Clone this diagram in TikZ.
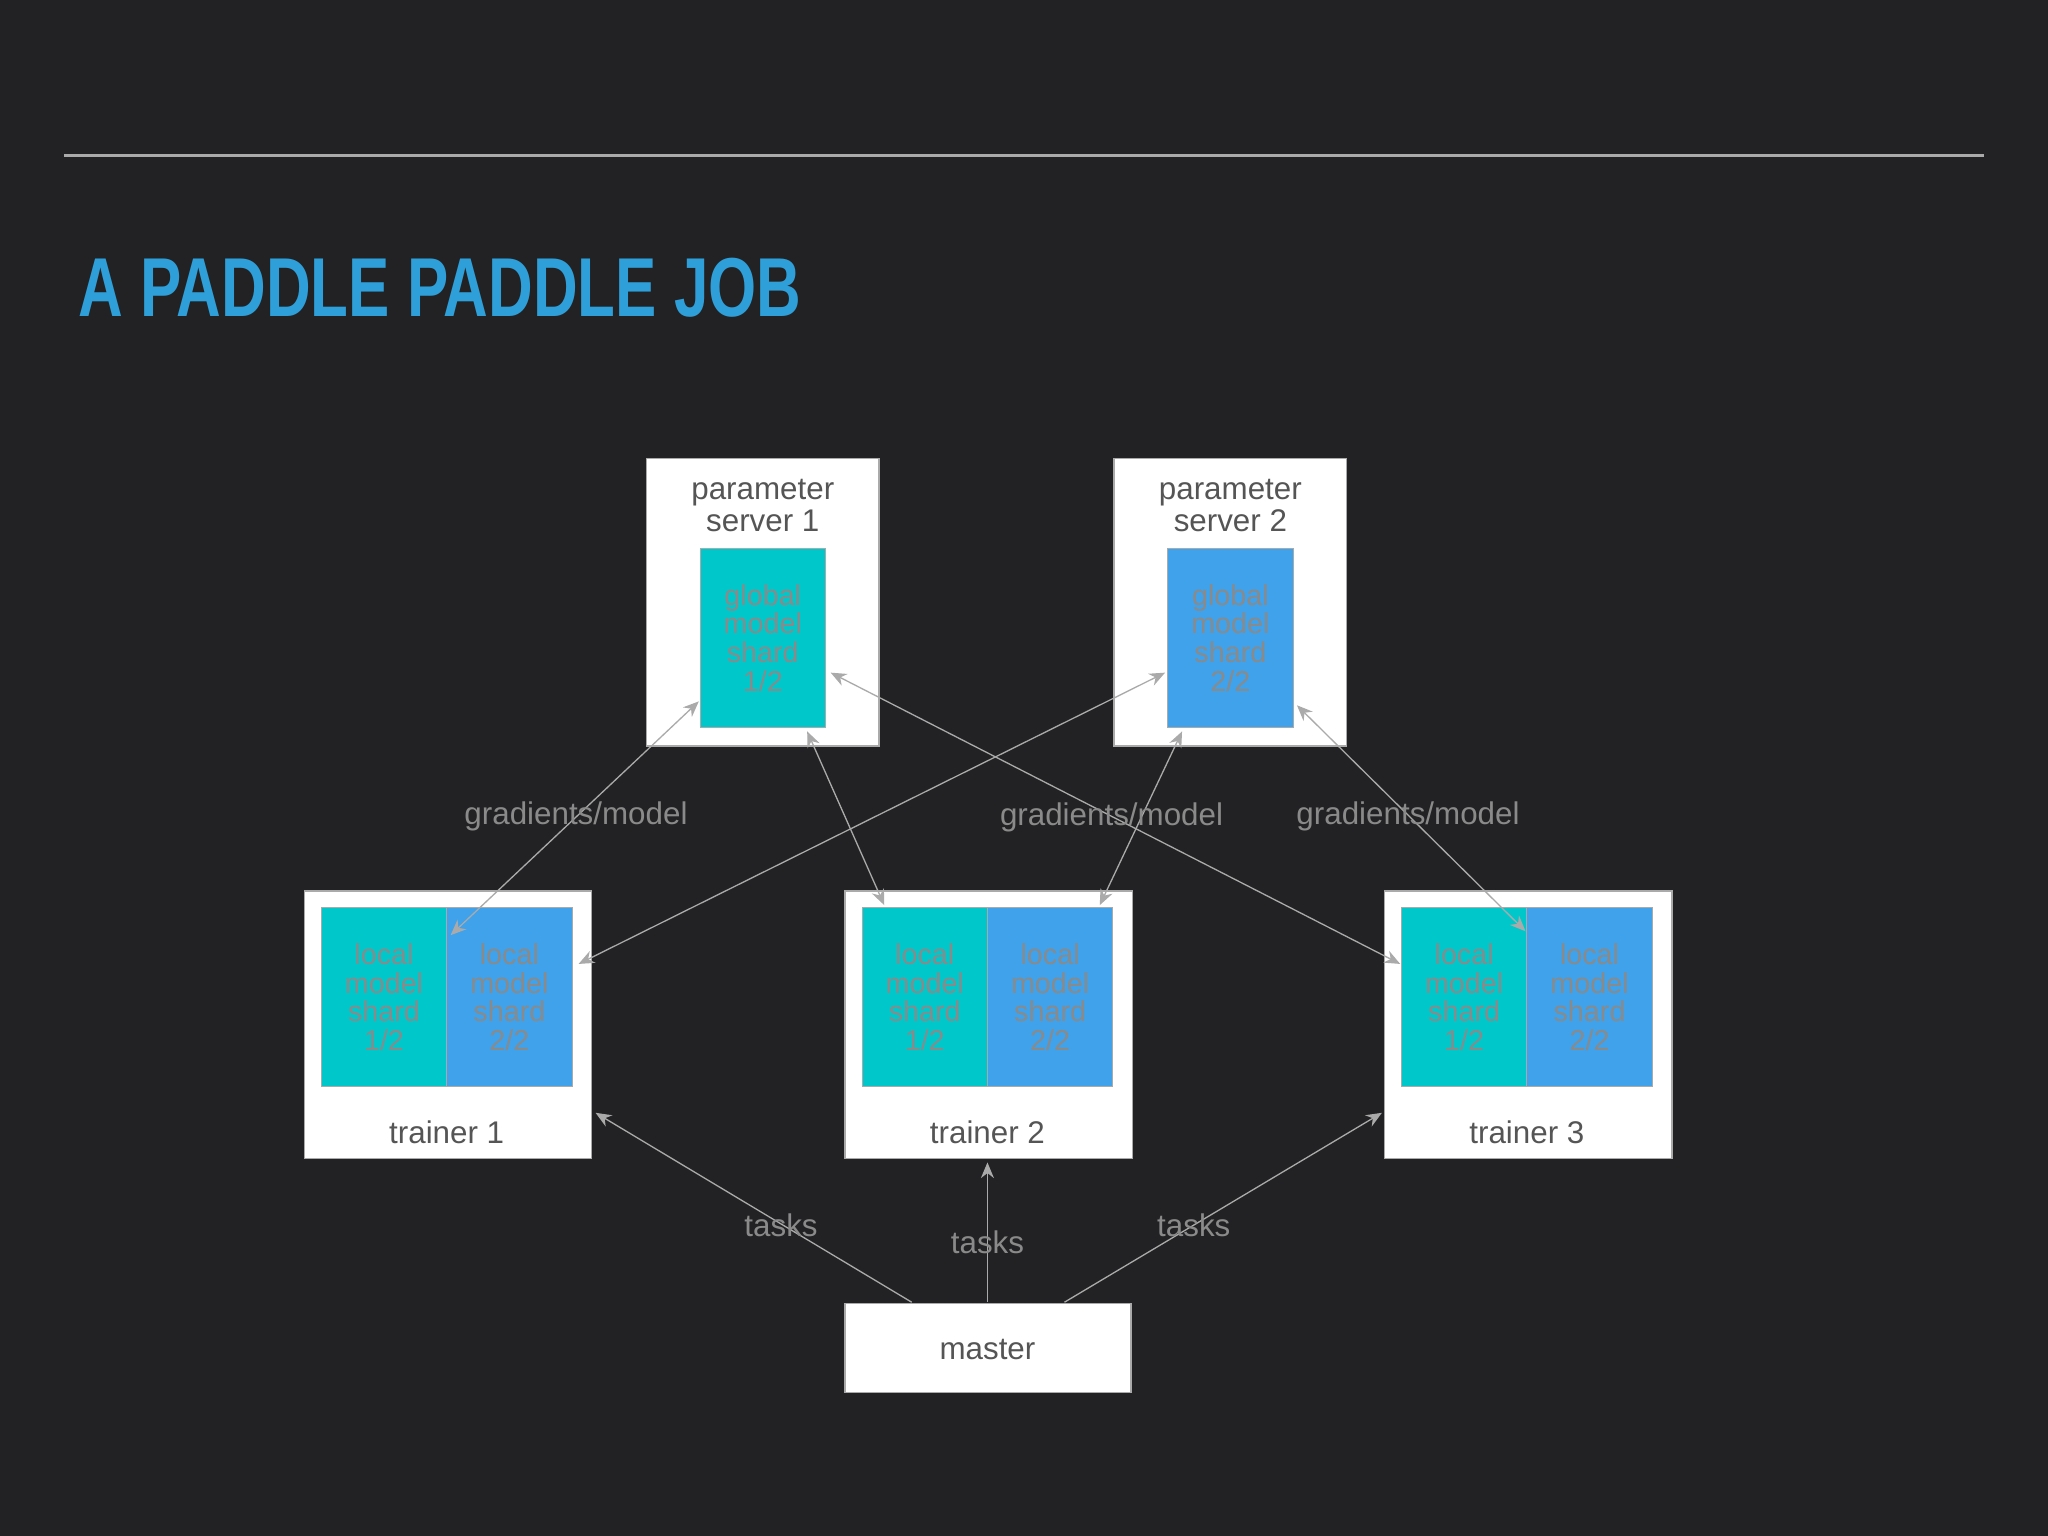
\documentclass[tikz,border=0pt]{standalone}
\usepackage{fontspec}
\setmainfont{Liberation Sans}
\usetikzlibrary{arrows.meta}
\definecolor{bg}{HTML}{222224}
\definecolor{ttl}{HTML}{2E9FD8}
\definecolor{teal}{HTML}{00C8CA}
\definecolor{sky}{HTML}{3FA2EA}
\definecolor{dtxt}{HTML}{555555}
\definecolor{ltxt}{HTML}{8A8A8A}
\definecolor{ln}{HTML}{AAAAAA}
\begin{document}
\begin{tikzpicture}[x=0.5pt,y=-0.5pt,
  wbox/.style={draw=ln,fill=white,line width=0.6pt},
  shard/.style={fill=#1,draw=ln,line width=0.4pt,text=ltxt,align=center,font=\fontsize{11}{14}\selectfont},
  lbl/.style={text=dtxt,font=\fontsize{12}{14}\selectfont,align=center},
  elbl/.style={text=ltxt,font=\fontsize{12}{14}\selectfont},
  conn/.style={draw=ln,line width=0.5pt,-{Stealth[length=6pt,width=5pt]}},
  conn2/.style={draw=ln,line width=0.5pt,{Stealth[length=6pt,width=5pt]}-{Stealth[length=6pt,width=5pt]}}]
\fill[bg] (0,0) rectangle (1568,1176);
\draw[ln,line width=1.3pt] (49,119) -- (1519,119);
\node[anchor=west,text=ttl,font=\bfseries\fontsize{32}{36}\selectfont,xscale=0.78,transform shape] (title) at (53,220) {};
\node[anchor=west,text=ttl,font=\bfseries\fontsize{32}{36}\selectfont] at (53,220) {\scalebox{0.74}[1]{A PADDLE PADDLE JOB}};
% parameter servers
\draw[wbox] (495,351) rectangle (673,571);
\node[lbl] (ps1t) at (584,387) {parameter\\[-2pt]server 1};
\node[shard=teal,minimum width=48pt,minimum height=68.5pt,inner sep=0pt] (g1) at (584,488.5) {global\\[-3pt]model\\[-3pt]shard\\[-3pt]1/2};
\draw[wbox] (853,351) rectangle (1031,571);
\node[lbl] (ps2t) at (942,387) {parameter\\[-2pt]server 2};
\node[shard=sky,minimum width=48pt,minimum height=68.5pt,inner sep=0pt] (g2) at (942,488.5) {global\\[-3pt]model\\[-3pt]shard\\[-3pt]2/2};
% trainers
\foreach \n/\x in {1/233,2/647,3/1060}{
  \draw[wbox] (\x,682) rectangle (\x+220,887);
  \node[shard=teal,minimum width=48pt,minimum height=68.5pt,inner sep=0pt] (t\n a) at (\x+61,763.5) {local\\[-3pt]model\\[-3pt]shard\\[-3pt]1/2};
  \node[shard=sky,minimum width=48pt,minimum height=68.5pt,inner sep=0pt] (t\n b) at (\x+157,763.5) {local\\[-3pt]model\\[-3pt]shard\\[-3pt]2/2};
  \node[lbl] (t\n l) at (\x+109,867) {trainer \n};
  \coordinate (T\n) at (\x,682);
}
\draw[wbox] (647,998) rectangle (866,1066);
\node[lbl] (master) at (756,1033) {master};
% gradients connectors
\draw[conn2] (535,537) -- (345,716);
\draw[conn2] (892,515) -- (443,738);
\draw[conn2] (618,560) -- (677,693);
\draw[conn2] (905,560) -- (842,693);
\draw[conn2] (636,515) -- (1072,738);
\draw[conn2] (993,540) -- (1168,713);
% tasks
\draw[conn] (698,997) -- (456,852);
\draw[conn] (756,997) -- (756,890);
\draw[conn] (815,997) -- (1058,852);
\node[elbl] at (441,625) {gradients/model};
\node[elbl] at (851,626) {gradients/model};
\node[elbl] at (1078,625) {gradients/model};
\node[elbl] at (598,938) {tasks};
\node[elbl] at (756,951) {tasks};
\node[elbl] at (914,938) {tasks};
\end{tikzpicture}
\end{document}
